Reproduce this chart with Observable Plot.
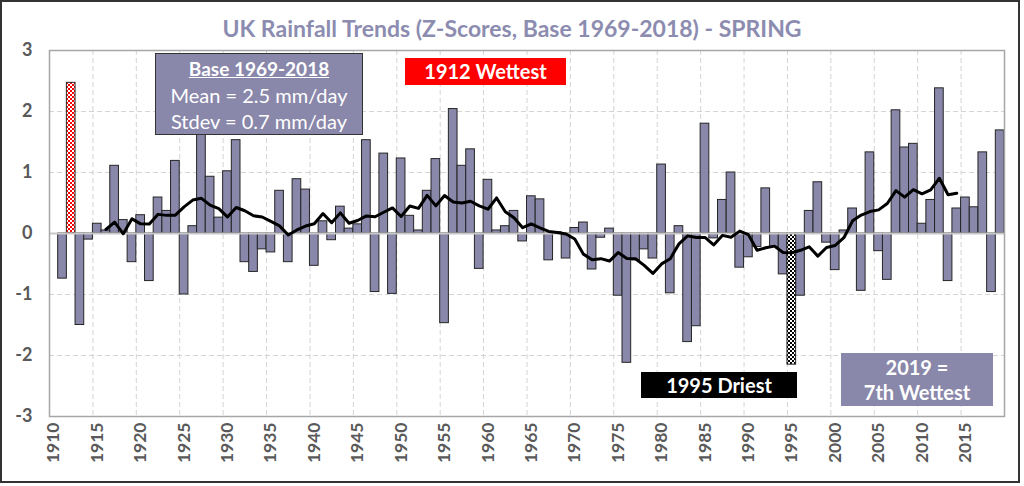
<!DOCTYPE html>
<html><head><meta charset="utf-8">
<script src="https://cdn.jsdelivr.net/npm/d3@7"></script>
<script src="https://cdn.jsdelivr.net/npm/@observablehq/plot@0.6"></script>
<style>
body{margin:0;background:#fff;}
#wrap{position:relative;width:1024px;height:486px;font-family:Lato,"Open Sans",sans-serif;overflow:hidden;background:#fff}
#chart{position:absolute;left:0;top:0}
#frame{position:absolute;left:0;top:0;width:1020px;height:483px;border:2px solid #333;box-sizing:border-box;pointer-events:none}
#title{position:absolute;left:0;width:1024px;top:14px;text-align:center;font-weight:bold;font-size:23px;color:#8c8cb0}
.box{position:absolute;color:#fff;text-align:center;box-sizing:border-box;font-size:20px}
</style></head><body>
<div id="wrap">
  <div id="chart"></div>
  <div id="title">UK Rainfall Trends (Z-Scores, Base 1969-2018) - SPRING</div>
  <div class="box" style="left:155px;top:53px;width:208px;height:82px;background:#8987aa;border:1.5px solid #333;line-height:26px;padding-top:2px">
    <div style="font-weight:bold;text-decoration:underline;font-size:19px">Base 1969-2018</div>
    <div>Mean = 2.5 mm/day</div>
    <div>Stdev = 0.7 mm/day</div>
  </div>
  <div class="box" style="left:405px;top:58px;width:161px;height:27px;background:#ff0000;font-weight:bold;line-height:27px">1912 Wettest</div>
  <div class="box" style="left:641px;top:372px;width:156px;height:26px;background:#000;font-weight:bold;line-height:26px">1995 Driest</div>
  <div class="box" style="left:841px;top:353px;width:152px;height:53px;background:#8987aa;font-weight:bold;line-height:25px;padding-top:2px">
    <div>2019 =</div><div>7th Wettest</div>
  </div>
  <div id="frame"></div>
</div>
<script>
// Spring rainfall z-scores, UK, 1911-2019
const firstYear = 1911;
const values = [
  -0.74, 2.47, -1.50, -0.10, 0.16, 0.05, 1.11, 0.22, -0.47,            // 1911-1919
  0.30, -0.78, 0.59, 0.37, 1.19, -1.00, 0.12, 1.80, 0.93, 0.26,        // 1920s
  1.02, 1.53, -0.47, -0.63, -0.26, -0.31, 0.70, -0.47, 0.89, 0.72,     // 1930s
  -0.53, 0.20, -0.11, 0.44, 0.08, 0.15, 1.53, -0.96, 1.31, -0.99,      // 1940s
  1.23, 0.29, 0.05, 0.70, 1.22, -1.47, 2.04, 1.11, 1.38, -0.58,        // 1950s
  0.88, 0.05, 0.12, 0.37, -0.13, 0.61, 0.56, -0.44, 0.02, -0.41,       // 1960s
  0.09, 0.18, -0.59, -0.07, 0.08, -1.02, -2.12, -0.44, -0.26, -0.41,   // 1970s
  1.13, -0.98, 0.12, -1.78, -1.52, 1.80, -0.08, 0.55, 1.00, -0.56,     // 1980s
  -0.39, -0.22, 0.74, -0.22, -0.67, -2.15, -1.02, 0.37, 0.84, -0.15,   // 1990s
  -0.60, 0.05, 0.41, -0.94, 1.33, -0.29, -0.76, 2.02, 1.41, 1.47,      // 2000s
  0.16, 0.55, 2.38, -0.78, 0.41, 0.59, 0.43, 1.33, -0.96, 1.69         // 2010s
];
const categoryYears = d3.range(1910, 2020);
const axisYears = [1910,1915,1920,1925,1930,1935,1940,1945,1950,1955,1960,1965,1970,1975,1980,1985,1990,1995,2000,2005,2010,2015];
const yTicks = [-3,-2,-1,0,1,2,3];
const wettestYear = 1912;
const driestYear = 1995;
const maWindow = 11;

const data = values.map((v, i) => ({year: firstYear + i, value: v}));
const W = 1024, H = 486, mL = 49, mR = 20, mT = 50, mB = 70;
const bw = (W - mL - mR) / categoryYears.length;
const barColor = "#8987aa";

const chart = Plot.plot({
  width: W, height: H,
  marginLeft: mL, marginRight: mR, marginTop: mT, marginBottom: mB,
  style: {fontFamily: "Lato, 'Open Sans', sans-serif", background: "transparent", overflow: "visible"},
  x: {type: "band", domain: categoryYears, padding: 0, label: null},
  y: {domain: [-3, 3], label: null},
  marks: [
    Plot.ruleY(yTicks.filter(t => t !== 0 && Math.abs(t) < 3), {stroke: "#d4d4d4", strokeDasharray: "5,3", strokeWidth: 1}),
    Plot.ruleX(axisYears.slice(1), {dx: -bw / 2, stroke: "#d4d4d4", strokeDasharray: "5,3", strokeWidth: 1}),
    Plot.barY(data, {filter: d => d.year !== wettestYear && d.year !== driestYear, x: "year", y: "value", fill: barColor, stroke: "#262626", strokeWidth: 1}),
    Plot.barY(data, {filter: d => d.year === wettestYear, x: "year", y: "value", fill: "url(#chkRed)", stroke: "#262626", strokeWidth: 1}),
    Plot.barY(data, {filter: d => d.year === driestYear, x: "year", y: "value", fill: "url(#chkBlack)", stroke: "#262626", strokeWidth: 1}),
    Plot.ruleY([0], {stroke: "#c8c8c8", strokeWidth: 2}),
    Plot.lineY(data, Plot.windowY({k: maWindow, anchor: "middle", strict: true}, {x: "year", y: "value", stroke: "#000", strokeWidth: 3, strokeLinejoin: "round"})),
    Plot.frame({stroke: "#a6a6a6", strokeWidth: 1.5}),
    Plot.axisY({ticks: yTicks, tickFormat: d => String(d), tickSize: 0, tickPadding: 17, fontSize: 18, fontWeight: "bold", fill: "#595959", label: null}),
    Plot.axisX({ticks: axisYears, tickFormat: d => String(d), tickSize: 0, tickRotate: -90, tickPadding: 6, fontSize: 17.5, fontWeight: "bold", fill: "#595959", label: null})
  ]
});

const defs = d3.select(chart).insert("defs", ":first-child");
function checker(id, color) {
  const p = defs.append("pattern").attr("id", id).attr("width", 4).attr("height", 4).attr("patternUnits", "userSpaceOnUse");
  p.append("rect").attr("width", 4).attr("height", 4).attr("fill", "#fff");
  p.append("rect").attr("width", 2).attr("height", 2).attr("fill", color);
  p.append("rect").attr("x", 2).attr("y", 2).attr("width", 2).attr("height", 2).attr("fill", color);
}
checker("chkRed", "#ff0000");
checker("chkBlack", "#000");
document.getElementById("chart").appendChild(chart);
</script>
</body></html>
